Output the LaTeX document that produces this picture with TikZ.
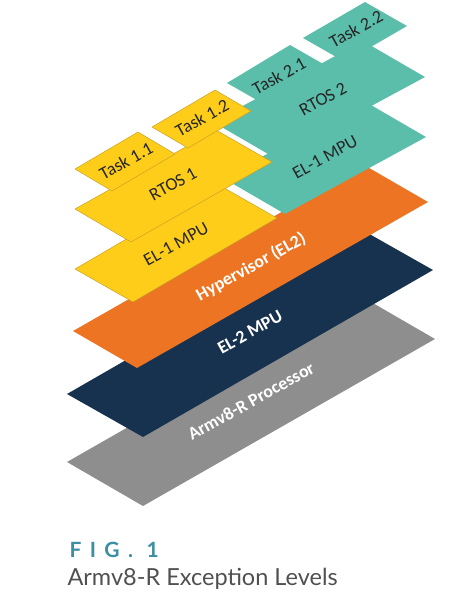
\documentclass[tikz,border=0pt]{standalone}
\usepackage{fontspec}
\setmainfont{Carlito}
\newfontfamily\capfont{Lato}
\newfontfamily\figfont[LetterSpace=40]{Lato}

\definecolor{armgray}{HTML}{8E8E8E}
\definecolor{armnavy}{HTML}{17324F}
\definecolor{armorange}{HTML}{EC7422}
\definecolor{armyellow}{HTML}{FDCD1A}
\definecolor{armyellowedge}{HTML}{C9A227}
\definecolor{armteal}{HTML}{5ABEAB}
\definecolor{figblue}{HTML}{3C8FA3}
\definecolor{capgray}{HTML}{505050}

\tikzset{
  yellowplate/.style={fill=armyellow, draw=armyellowedge, line width=0.5pt, line join=round},
  tealplate/.style={fill=armteal},
  darklabel/.style={rotate=29, text=black!85, font=\fontsize{18}{18}\selectfont},
  lightlabel/.style={rotate=29, text=white, font=\fontsize{18}{18}\selectfont\bfseries},
}

\begin{document}
\begin{tikzpicture}[x=1pt,y=-1pt]
            \useasboundingbox (0,0) rectangle (457,598);

            % base layers
            \fill[armgray]   (67,462) -- (143,506) -- (435,339) -- (359,295) -- cycle;
            \fill[armnavy]   (67,394) -- (143,437) -- (433,270) -- (357,227) -- cycle;
            \fill[armorange] (73,331) -- (137,368) -- (428,202) -- (364,165) -- cycle;

            % second partition
            \foreach \l/\b/\r/\t in {{223,178}/{285,214}/{426,137}/{364,101},
                                     {213,122}/{275,158}/{425,77}/{363,41},
                                     {227,83}/{269,107}/{332,69}/{290,45},
                                     {303,38}/{345,62}/{407,26}/{365,2}}
              \fill[tealplate] (\l) -- (\b) -- (\r) -- (\t) -- cycle;

            % first partition
            \foreach \l/\b/\r/\t in {{75,269}/{133,302}/{277,218}/{219,185},
                                     {75,209}/{131,242}/{272,162}/{216,130},
                                     {75,169}/{112,191}/{175,154}/{138,132},
                                     {152,127}/{188,148}/{251,111}/{215,90}}
              \filldraw[yellowplate] (\l) -- (\b) -- (\r) -- (\t) -- cycle;

            \node[lightlabel] (proc) at (251,401) {Armv8-R Processor};
            \node[lightlabel] (mputwo) at (250,332) {EL-2 MPU};
            \node[lightlabel] (hyp) at (251,267) {Hypervisor (EL2)};
            \node[darklabel] (mpuy) at (176,244) {EL-1 MPU};
            \node[darklabel] (rtosone) at (173,184) {RTOS 1};
            \node[darklabel] (taskoneone) at (126,161) {Task 1.1};
            \node[darklabel] (taskonetwo) at (202,118) {Task 1.2};
            \node[darklabel] (mput) at (325,157) {EL-1 MPU};
            \node[darklabel] (rtostwo) at (323,99) {RTOS 2};
            \node[darklabel] (tasktwoone) at (279,76) {Task 2.1};
            \node[darklabel] (tasktwotwo) at (356,29) {Task 2.2};

            \node[anchor=base west, text=figblue, font=\figfont\bfseries\fontsize{21}{21}\selectfont] (fig) at (66,557) {FIG. 1};
            \node[anchor=base west, text=capgray, font=\capfont\fontsize{23.5}{23.5}\selectfont] (cap) at (64,585) {Armv8-R Exception Levels};
            \end{tikzpicture}
\end{document}
